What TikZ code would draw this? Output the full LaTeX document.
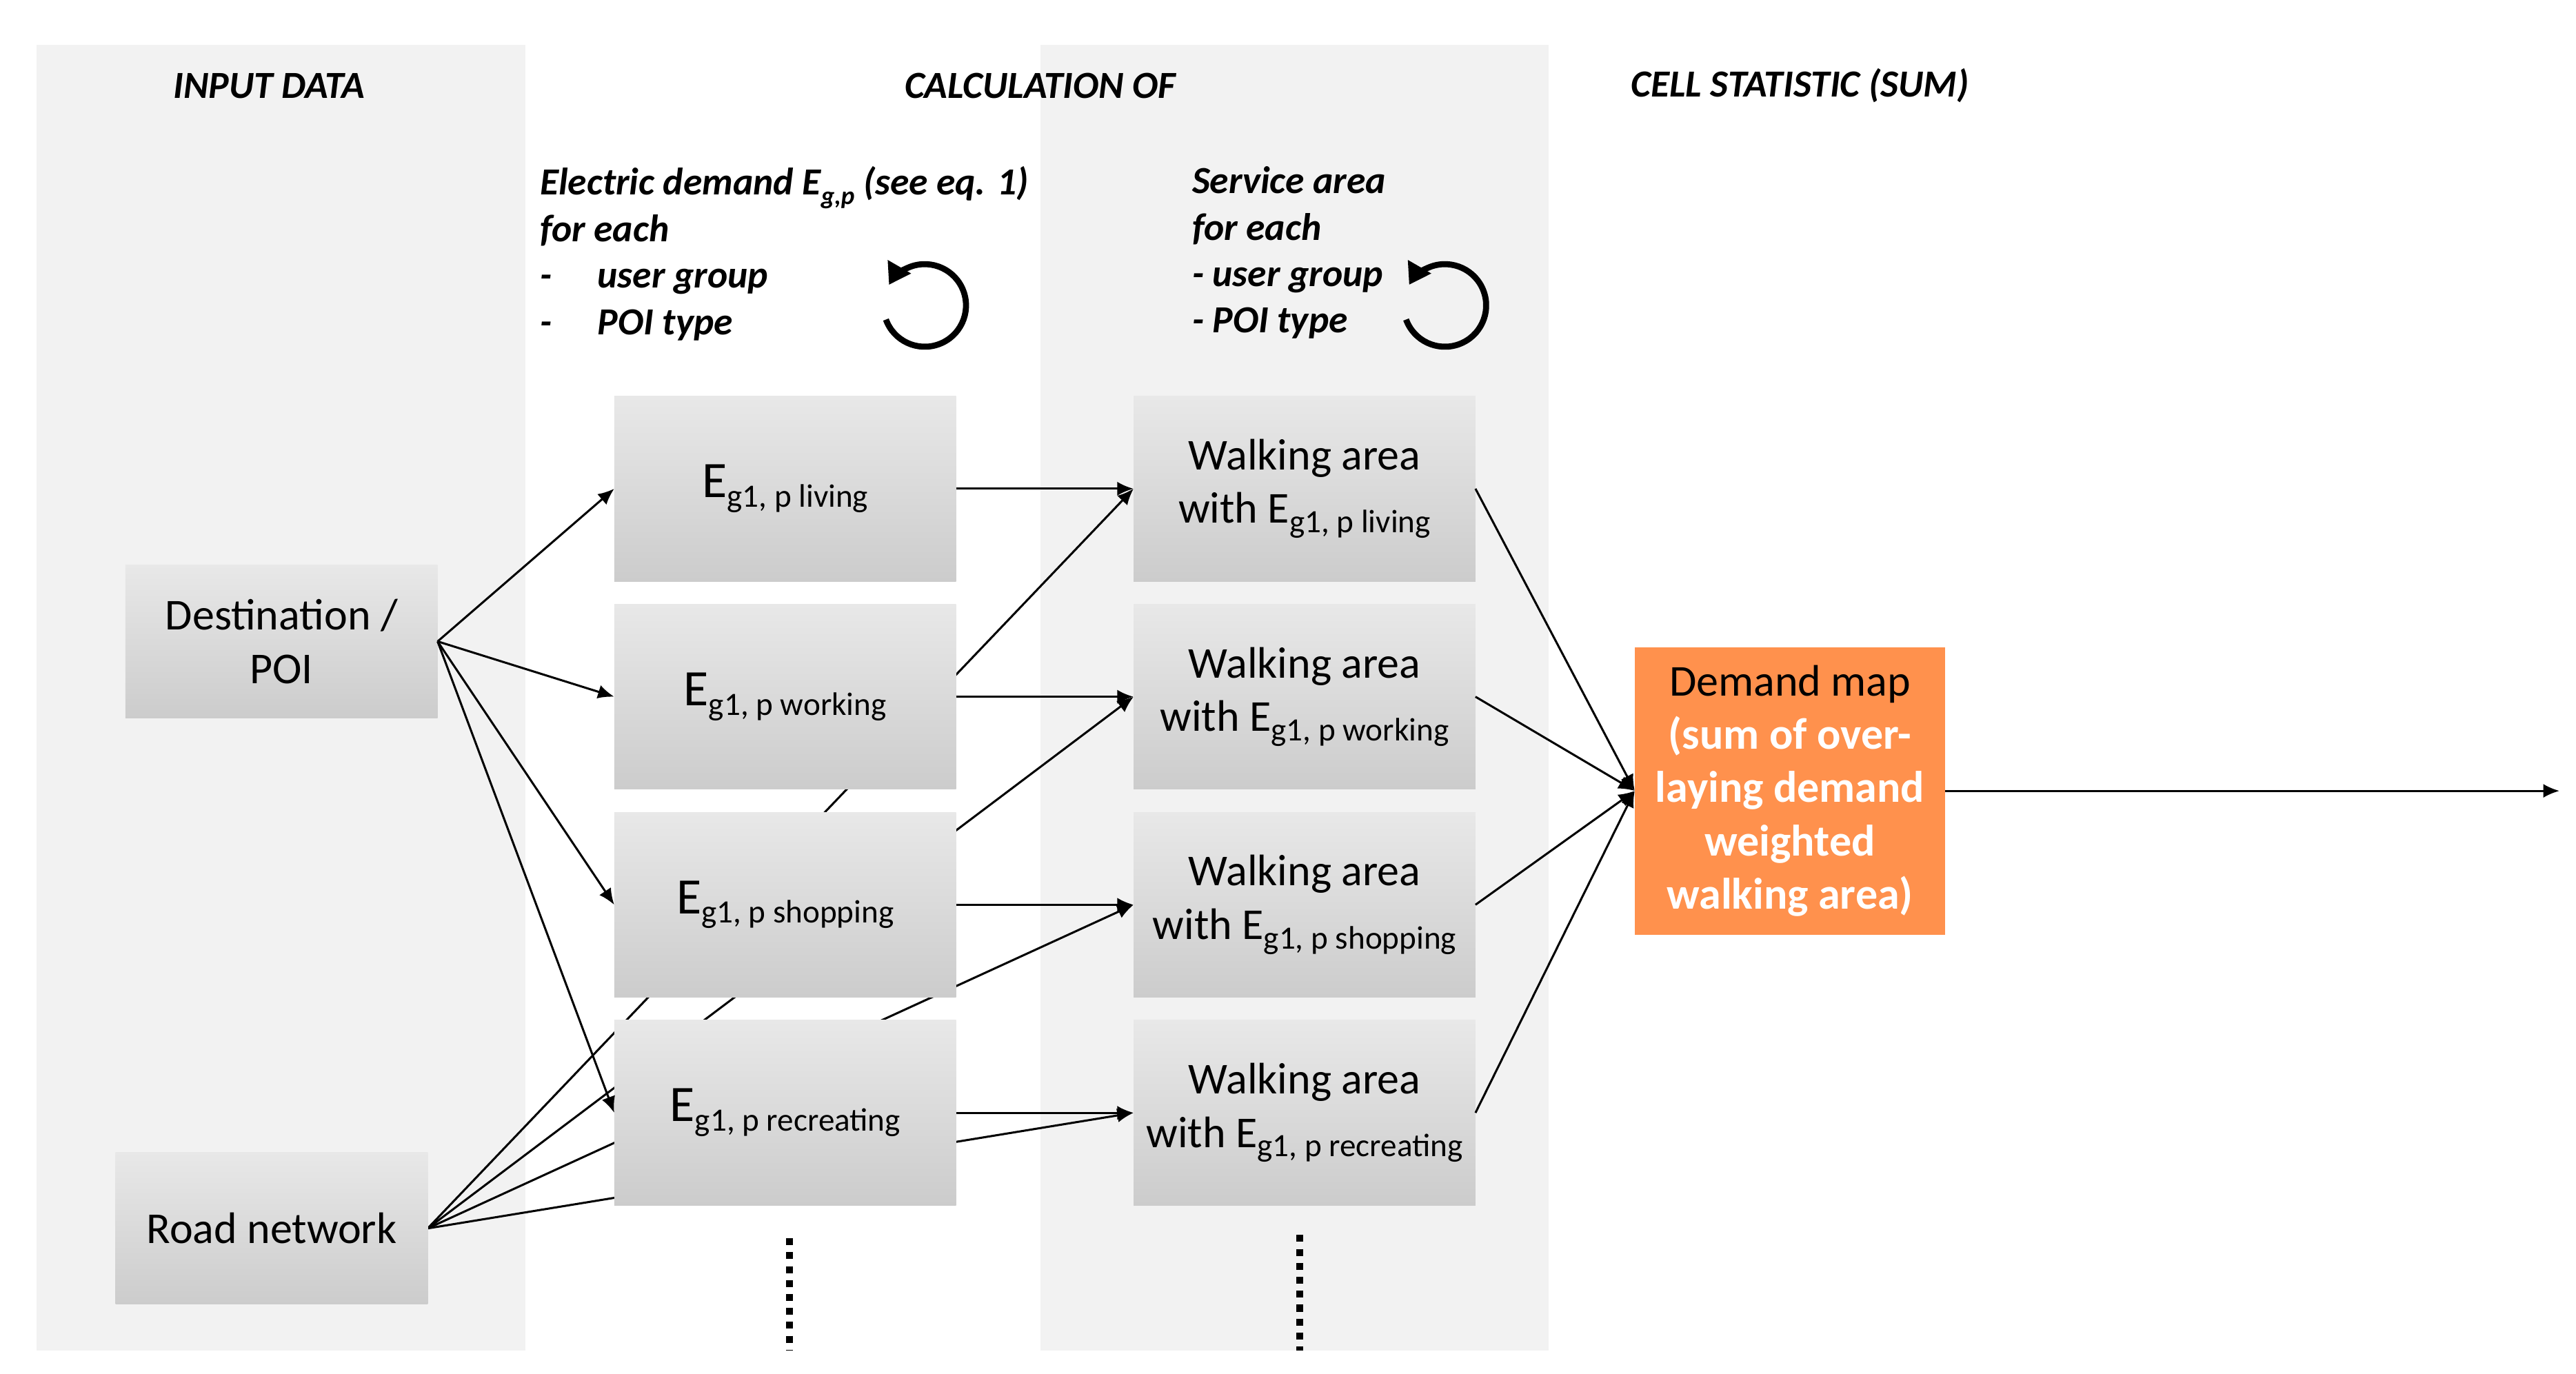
\documentclass[tikz,border=0pt]{standalone}
\usepackage{fontspec}
\setmainfont{Carlito}
\usetikzlibrary{arrows.meta,positioning}
\definecolor{panel}{HTML}{F2F2F2}
\definecolor{mapfill}{HTML}{FF914D}
\pgfdeclarelayer{bg}
\pgfdeclarelayer{back}
\pgfsetlayers{bg,back,main}
\newcommand{\Eg}[2]{{\fontsize{#1}{#1}\selectfont E}\raisebox{-0.45ex}{\fontsize{14}{14}\selectfont g1, p #2}}
\tikzset{
  box/.style={draw=none, top color=gray!18, bottom color=gray!40, minimum width=5.175cm,
    minimum height=2.8cm, align=center, font=\fontsize{19}{23}\selectfont, inner sep=2pt, outer sep=0pt},
  head/.style={font=\fontsize{16.5}{20}\selectfont\bfseries\itshape},
  arr/.style={-{Latex[length=7pt,width=6pt]}, line width=0.9pt},
  loop/.style={line width=2.6pt, -{Triangle[length=9pt,width=11pt]}},
}
\begin{document}
\begin{tikzpicture}[x=0.025cm,y=-0.025cm]
  \useasboundingbox (0,0) rectangle (1560,832);
  \begin{pgfonlayer}{bg}
    \fill[panel] (22,27) rectangle (318,818);
    \fill[panel] (630,27) rectangle (938,818);
  \end{pgfonlayer}

  % headers
  \node[head] (hin)   at (163,52)  {INPUT DATA};
  \node[head] (hcalc) at (630,52)  {CALCULATION OF};
  \node[head] (hcell) at (1090,52) {CELL STATISTIC (SUM)};
  \node[head, anchor=north west, align=left] (hdem) at (322,96)
    {Electric demand E\raisebox{-0.5ex}{\fontsize{11}{11}\selectfont g,p} (see eq. 1)\\
     for each\\ -\hspace{1.2em}user group\\ -\hspace{1.2em}POI type};
  \node[head, anchor=north west, align=left] (hserv) at (717,96)
    {Service area\\ for each\\ - user group\\ - POI type};
  \draw[loop] (560,185) ++(160:25) arc (160:-150:25);
  \draw[loop] (875,185) ++(160:25) arc (160:-150:25);

  % input data
  \node[box, minimum width=4.725cm, minimum height=2.325cm] (dest) at (170.5,388.5) {Destination /\\POI};
  \node[box, minimum width=4.725cm, minimum height=2.3cm] (road) at (164.5,744) {Road network};

  % demand and walking area boxes
  \foreach \p/\y [count=\i] in {living/296, working/422, shopping/548, recreating/674} {
    \node[box] (e\i) at (475.5,\y) {\Eg{22}{\p}};
    \node[box] (w\i) at (790,\y) {Walking area\\with \Eg{19}{\p}};
  }
  \node[fill=mapfill, minimum width=4.7cm, minimum height=4.35cm, align=center,
    font=\fontsize{19}{23}\selectfont, inner sep=2pt, outer sep=0pt] (map) at (1084,479)
    {Demand map\\ \textcolor{white}{\bfseries (sum of over-}\\ \textcolor{white}{\bfseries laying demand}\\
     \textcolor{white}{\bfseries weighted}\\ \textcolor{white}{\bfseries walking area)}};
  \coordinate (out) at (1550,479);

  % connectors
  \begin{pgfonlayer}{back}
    \foreach \i in {1,...,4}
      \draw[arr] (road.east) -- (w\i.west);
  \end{pgfonlayer}
  \foreach \i in {1,...,4} {
    \draw[arr] (dest.east) -- (e\i.west);
    \draw[arr] (e\i.east) -- (w\i.west);
    \draw[arr] (w\i.east) -- (map.west);
  }
  \draw[arr] (map.east) -- (out);

  % more groups
  \coordinate (d1a) at (478,750); \coordinate (d1b) at (478,818);
  \coordinate (d2a) at (787,748); \coordinate (d2b) at (787,818);
  \draw[line width=3pt, dash pattern=on 3pt off 3pt] (d1a) -- (d1b);
  \draw[line width=3pt, dash pattern=on 3pt off 3pt] (d2a) -- (d2b);
\end{tikzpicture}
\end{document}
